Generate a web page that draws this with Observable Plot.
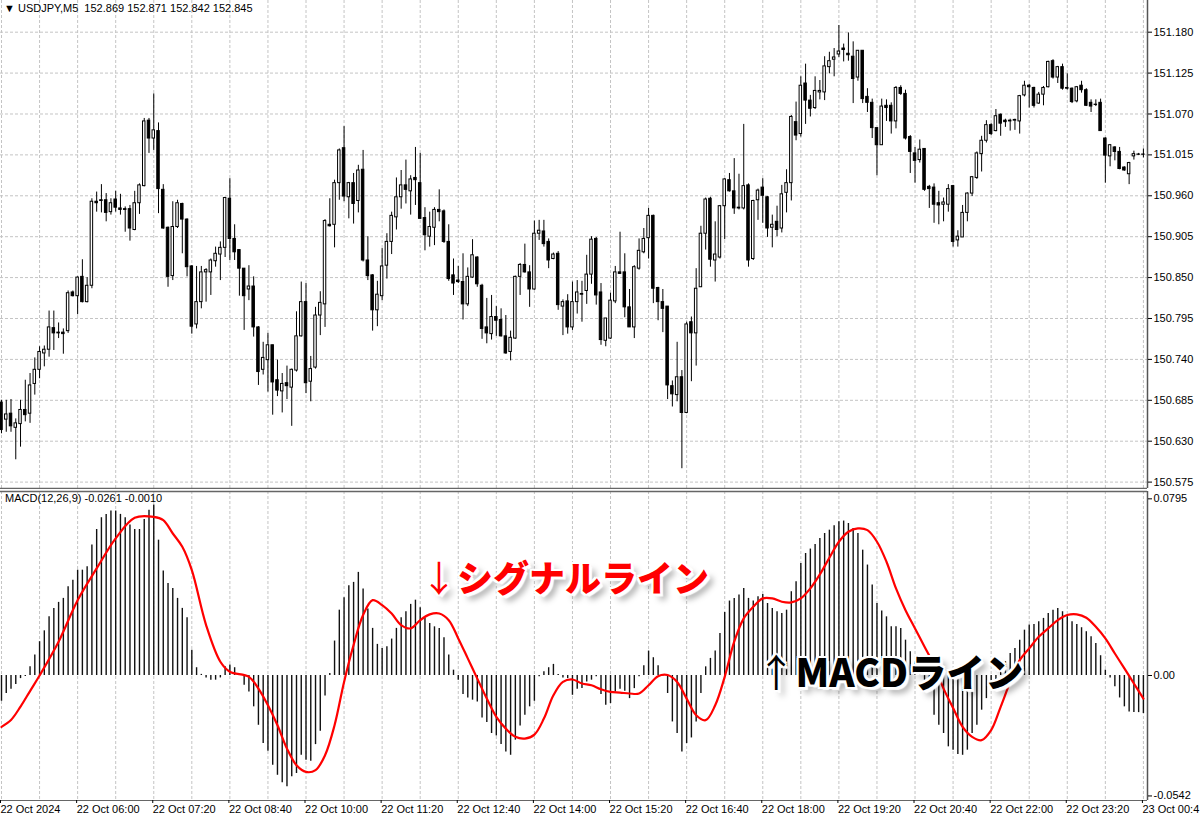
<!DOCTYPE html>
<html><head><meta charset="utf-8">
<script src="https://cdn.jsdelivr.net/npm/d3@7"></script>
<script src="https://cdn.jsdelivr.net/npm/@observablehq/plot@0.6"></script>
<style>
html,body{margin:0;padding:0;background:#fff}
body{width:1200px;height:820px;overflow:hidden;position:relative;font-family:"Liberation Sans",Arial,sans-serif}
#price{position:absolute;left:0;top:0}
#macd{position:absolute;left:0;top:489px}
.hdr{position:absolute;font-size:11px;color:#000;white-space:pre;line-height:1}
.ann{position:absolute;font-family:"Noto Sans CJK JP",sans-serif;font-weight:900;font-size:37px;line-height:1;white-space:nowrap;
 text-shadow:0 0 2px #fff,2px 0 0 #fff,-2px 0 0 #fff,0 2px 0 #fff,0 -2px 0 #fff,2px 2px 0 #fff,-2px -2px 0 #fff,2px -2px 0 #fff,-2px 2px 0 #fff,3px 3px 1px #fff,6px 6px 6px rgba(0,0,0,0.35)}
.ann .ar{font-weight:400}
</style></head><body>
<div id="price"></div>
<div id="macd"></div>
<div class="hdr" style="left:4px;top:3px">▼ USDJPY,M5  152.869 152.871 152.842 152.845</div>
<div class="hdr" style="left:5px;top:493px">MACD(12,26,9) -0.0261 -0.0010</div>
<div class="ann" style="left:421px;top:558px;color:#ff0000;font-size:36px"><span class="ar">↓</span>シグナルライン</div>
<div class="ann" style="left:757px;top:651px;color:#000;font-size:38.5px"><span class="ar">↑</span>MACDライン</div>
<script>
const open = [
150.682,150.659,150.667,150.648,150.653,150.672,150.667,150.707,150.726,150.748,
150.753,150.782,150.776,150.776,150.778,150.830,150.825,150.851,150.817,150.839,
150.952,150.954,150.954,150.938,150.955,150.943,150.942,150.942,150.914,150.950,
150.973,151.061,151.037,151.047,150.968,150.917,150.852,150.918,150.949,150.928,
150.865,150.787,150.817,150.857,150.857,150.872,150.881,150.890,150.956,150.902,
150.887,150.862,150.834,150.838,150.783,150.726,150.739,150.759,150.712,150.697,
150.708,150.702,150.725,150.771,150.817,150.710,150.729,150.799,150.814,150.921,
150.921,150.977,151.024,150.958,150.977,150.953,150.995,150.873,150.853,150.806,
150.825,150.866,150.898,150.931,150.958,150.974,150.966,150.984,150.977,150.930,
150.905,150.917,150.941,150.939,150.898,150.853,150.846,150.844,150.814,150.850,
150.877,150.839,150.783,150.774,150.797,150.793,150.771,150.750,150.768,150.851,
150.867,150.857,150.834,150.909,150.912,150.898,150.875,150.882,150.811,150.818,
150.783,150.817,150.828,150.832,150.854,150.902,150.830,150.765,150.768,150.818,
150.857,150.857,150.810,150.783,150.862,150.884,150.903,150.933,150.836,150.817,
150.811,150.704,150.692,150.716,150.668,150.790,150.775,150.837,150.909,150.956,
150.873,150.877,150.946,150.981,150.966,150.944,150.943,150.974,150.875,150.954,
150.971,150.958,150.917,150.925,150.916,150.964,150.977,151.059,151.043,151.111,
151.088,151.078,151.099,151.099,151.133,151.143,151.150,151.158,151.151,151.147,
151.119,151.155,151.093,151.085,151.051,151.028,151.081,151.081,151.060,151.105,
151.097,151.039,151.017,151.008,151.023,150.972,150.971,150.950,150.948,150.948,
150.973,150.900,150.904,150.937,150.963,150.984,151.016,151.034,151.055,151.047,
151.069,151.061,151.060,151.061,151.060,151.095,151.108,151.105,151.084,151.096,
151.106,151.141,151.119,151.133,151.105,151.104,151.087,151.108,151.102,151.085,
151.083,151.085,151.037,151.013,151.025,151.019,150.998,150.989,151.013,151.016,151.016];
const high = [
150.685,150.685,150.686,150.660,150.685,150.712,150.721,150.742,150.757,150.758,
150.805,150.805,150.789,150.781,150.832,150.832,150.851,150.874,150.850,150.956,
150.965,150.975,150.963,150.956,150.966,150.962,150.945,150.947,150.966,150.976,
151.064,151.064,151.097,151.058,150.975,150.918,150.952,150.954,150.950,150.929,
150.866,150.865,150.865,150.862,150.875,150.891,150.898,150.958,150.983,150.921,
150.887,150.862,150.866,150.851,150.784,150.763,150.775,150.759,150.739,150.721,
150.731,150.727,150.804,150.844,150.842,150.744,150.810,150.831,150.928,150.956,
150.981,151.023,151.053,150.978,150.990,151.001,151.021,150.905,150.854,150.845,
150.889,150.909,150.938,150.984,150.994,151.008,150.987,151.025,151.017,150.944,
150.938,150.944,150.968,150.941,150.921,150.875,150.865,150.882,150.863,150.901,
150.878,150.841,150.822,150.826,150.811,150.808,150.799,150.778,150.852,150.869,
150.895,150.866,150.926,150.927,150.927,150.902,150.883,150.885,150.820,150.827,
150.844,150.846,150.845,150.880,150.905,150.904,150.842,150.795,150.829,150.865,
150.911,150.882,150.834,150.866,150.902,150.916,150.943,150.934,150.837,150.834,
150.811,150.711,150.763,150.725,150.790,150.797,150.862,150.919,150.957,150.958,
150.925,150.947,150.983,150.990,151.010,150.989,151.056,150.976,150.954,150.969,
150.983,150.959,150.934,150.946,150.974,150.995,151.068,151.086,151.120,151.137,
151.095,151.120,151.115,151.147,151.153,151.158,151.189,151.164,151.179,151.167,
151.155,151.155,151.104,151.090,151.051,151.090,151.089,151.085,151.107,151.108,
151.102,151.041,151.025,151.035,151.023,150.974,150.976,150.966,150.957,150.975,
150.974,150.913,150.947,150.964,150.986,151.019,151.040,151.061,151.057,151.076,
151.070,151.063,151.063,151.063,151.095,151.114,151.110,151.106,151.099,151.107,
151.141,151.143,151.134,151.137,151.124,151.105,151.107,151.114,151.104,151.089,
151.089,151.090,151.038,151.029,151.026,151.025,150.999,151.005,151.020,151.017,151.023];
const low = [
150.640,150.642,150.642,150.605,150.622,150.656,150.654,150.692,150.714,150.730,
150.743,150.752,150.768,150.747,150.775,150.824,150.800,150.816,150.816,150.835,
150.938,150.937,150.925,150.934,150.938,150.934,150.911,150.899,150.913,150.935,
150.972,151.017,151.021,150.936,150.915,150.837,150.846,150.916,150.882,150.851,
150.774,150.781,150.808,150.817,150.826,150.864,150.846,150.877,150.873,150.873,
150.825,150.779,150.819,150.770,150.705,150.719,150.696,150.665,150.690,150.668,
150.686,150.650,150.723,150.770,150.694,150.683,150.727,150.772,150.783,150.918,
150.890,150.954,150.952,150.929,150.922,150.937,150.871,150.846,150.778,150.784,
150.819,150.848,150.881,150.914,150.942,150.949,150.934,150.947,150.928,150.886,
150.891,150.893,150.925,150.896,150.845,150.826,150.842,150.793,150.811,150.849,
150.837,150.767,150.761,150.766,150.771,150.770,150.747,150.738,150.767,150.826,
150.856,150.810,150.833,150.900,150.891,150.862,150.874,150.806,150.772,150.774,
150.779,150.801,150.790,150.814,150.841,150.813,150.759,150.757,150.767,150.815,
150.855,150.796,150.783,150.768,150.860,150.882,150.875,150.815,150.792,150.776,
150.686,150.676,150.683,150.593,150.667,150.710,150.731,150.837,150.887,150.864,
150.844,150.875,150.901,150.965,150.935,150.941,150.941,150.864,150.873,150.927,
150.923,150.904,150.890,150.905,150.910,150.937,150.953,151.034,151.039,151.056,
151.066,151.076,151.089,151.088,151.124,151.120,151.146,151.140,151.141,151.084,
151.114,151.084,151.072,151.037,150.987,151.028,151.060,151.043,151.050,151.095,
151.035,150.990,150.977,151.004,150.966,150.943,150.923,150.921,150.925,150.938,
150.891,150.891,150.904,150.925,150.959,150.982,150.992,151.031,151.041,151.046,
151.040,151.052,151.047,151.048,151.043,151.093,151.078,151.078,151.083,151.081,
151.105,151.117,151.111,151.102,151.102,151.084,151.085,151.098,151.080,151.072,
151.080,151.047,150.977,150.999,151.007,150.995,150.993,150.975,151.008,151.014,151.011];
const close = [
150.645,150.666,150.650,150.654,150.672,150.665,150.705,150.726,150.750,150.753,
150.783,150.775,150.775,150.774,150.829,150.825,150.850,150.817,150.839,150.952,
150.950,150.953,150.937,150.950,150.944,150.941,150.941,150.916,150.950,150.974,
151.060,151.037,151.048,150.969,150.916,150.851,150.918,150.950,150.928,150.864,
150.784,150.817,150.857,150.860,150.873,150.882,150.890,150.957,150.902,150.884,
150.862,150.825,150.838,150.783,150.723,150.742,150.759,150.709,150.698,150.707,
150.704,150.726,150.771,150.817,150.708,150.727,150.799,150.816,150.926,150.919,
150.977,151.021,150.959,150.977,150.949,150.994,150.873,150.852,150.806,150.827,
150.865,150.898,150.933,150.958,150.974,150.968,150.982,150.981,150.929,150.907,
150.918,150.941,150.938,150.898,150.848,150.842,150.844,150.814,150.851,150.880,
150.841,150.781,150.775,150.797,150.792,150.771,150.748,150.769,150.851,150.867,
150.857,150.834,150.909,150.913,150.895,150.873,150.881,150.813,150.817,150.783,
150.817,150.830,150.827,150.854,150.901,150.826,150.766,150.795,150.819,150.857,
150.855,150.810,150.783,150.864,150.886,150.902,150.933,150.835,150.817,150.808,
150.705,150.693,150.716,150.668,150.787,150.775,150.835,150.909,150.955,150.874,
150.881,150.946,150.982,150.966,150.943,150.943,150.973,150.873,150.953,150.967,
150.960,150.916,150.921,150.914,150.962,150.977,151.066,151.041,151.108,151.088,
151.077,151.101,151.101,151.134,151.141,151.146,151.154,151.156,151.149,151.117,
151.155,151.090,151.085,151.051,151.028,151.080,151.078,151.060,151.105,151.097,
151.037,151.019,151.007,151.022,150.968,150.969,150.948,150.947,150.951,150.969,
150.898,150.905,150.937,150.963,150.985,151.017,151.034,151.055,151.043,151.067,
151.057,151.059,151.061,151.062,151.094,151.108,151.106,151.081,151.096,151.105,
151.140,151.119,151.133,151.104,151.104,151.086,151.106,151.102,151.081,151.080,
151.083,151.047,151.014,151.028,151.019,150.996,150.994,151.004,151.016,151.016,151.016];
const macdMain = [
-0.0116,-0.0081,-0.0062,-0.0041,-0.0014,-0.0005,0.0039,0.0092,0.0152,0.0201,
0.0264,0.0302,0.0329,0.0347,0.0399,0.0429,0.0474,0.0474,0.0489,0.0587,
0.0657,0.0710,0.0725,0.0740,0.0740,0.0725,0.0710,0.0677,0.0657,0.0657,
0.0702,0.0744,0.0767,0.0609,0.0470,0.0414,0.0392,0.0347,0.0302,0.0260,
0.0114,0.0035,0.0005,-0.0011,-0.0021,-0.0021,-0.0011,0.0039,0.0047,0.0035,
0.0002,-0.0044,-0.0074,-0.0141,-0.0224,-0.0306,-0.0341,-0.0404,-0.0449,-0.0483,
-0.0501,-0.0456,-0.0441,-0.0359,-0.0381,-0.0386,-0.0311,-0.0251,-0.0092,0.0009,
0.0155,0.0294,0.0350,0.0404,0.0419,0.0464,0.0389,0.0299,0.0212,0.0140,
0.0122,0.0129,0.0164,0.0212,0.0260,0.0287,0.0320,0.0339,0.0305,0.0257,
0.0234,0.0219,0.0212,0.0170,0.0092,0.0024,-0.0021,-0.0086,-0.0101,-0.0111,
-0.0119,-0.0191,-0.0212,-0.0261,-0.0272,-0.0311,-0.0344,-0.0359,-0.0291,-0.0227,
-0.0179,-0.0141,-0.0116,-0.0006,0.0017,0.0035,0.0050,0.0005,-0.0011,-0.0014,
-0.0089,-0.0062,-0.0059,-0.0029,-0.0021,-0.0006,-0.0086,-0.0134,-0.0126,-0.0074,
-0.0062,-0.0071,-0.0104,-0.0059,-0.0006,0.0044,0.0110,0.0080,0.0044,-0.0002,
-0.0081,-0.0209,-0.0261,-0.0344,-0.0306,-0.0281,-0.0209,-0.0081,0.0039,0.0077,
0.0110,0.0189,0.0284,0.0335,0.0347,0.0362,0.0392,0.0347,0.0335,0.0354,
0.0365,0.0324,0.0302,0.0287,0.0279,0.0294,0.0377,0.0422,0.0504,0.0549,
0.0569,0.0590,0.0617,0.0639,0.0654,0.0674,0.0692,0.0695,0.0684,0.0662,
0.0639,0.0564,0.0497,0.0407,0.0324,0.0290,0.0264,0.0219,0.0219,0.0212,
0.0159,0.0107,0.0062,0.0024,-0.0021,-0.0071,-0.0179,-0.0224,-0.0261,-0.0321,
-0.0336,-0.0356,-0.0359,-0.0336,-0.0261,-0.0224,-0.0156,-0.0104,-0.0059,-0.0029,
0.0017,0.0062,0.0099,0.0122,0.0159,0.0204,0.0227,0.0230,0.0242,0.0257,
0.0279,0.0294,0.0302,0.0287,0.0264,0.0242,0.0230,0.0215,0.0197,0.0174,
0.0144,0.0089,0.0024,-0.0011,-0.0051,-0.0101,-0.0141,-0.0164,-0.0167,-0.0167,-0.0171];
const signalBars = [0,2,4,6,8,12,16,20,24,28,32,34,36,38,40,43,46,48,52,54,56,58,60,62,64,66,68,70,72,74,76,78,
80,82,84,86,88,90,92,94,96,98,100,102,104,106,108,110,112,114,116,118,120,122,124,126,128,130,132,134,136,138,
140,142,144,146,148,150,152,154,156,158,160,162,164,166,168,170,172,174,176,178,180,182,184,186,188,190,192,194,
196,198,200,202,204,206,208,210,212,214,216,218,220,222,224,226,228,230,232,234,236,238,240];
const signalValues = [-0.0231,-0.0200,-0.0140,-0.0070,0.0000,0.0152,0.0339,0.0482,0.0617,0.0710,0.0714,0.0699,0.0639,0.0579,0.0474,0.0227,0.0062,0.0017,-0.0006,-0.0059,-0.0134,-0.0224,-0.0329,-0.0404,-0.0434,-0.0426,-0.0359,-0.0224,-0.0029,0.0137,0.0272,0.0339,
0.0317,0.0279,0.0227,0.0212,0.0249,0.0275,0.0279,0.0249,0.0167,0.0077,-0.0014,-0.0104,-0.0186,-0.0239,-0.0276,-0.0284,-0.0266,-0.0194,-0.0089,-0.0029,-0.0018,-0.0036,-0.0044,-0.0062,-0.0074,-0.0077,-0.0081,-0.0081,-0.0044,-0.0003,
0.0002,-0.0029,-0.0104,-0.0179,-0.0201,-0.0134,-0.0006,0.0152,0.0257,0.0309,0.0347,0.0347,0.0332,0.0329,0.0347,0.0392,0.0455,0.0530,0.0602,0.0647,0.0662,0.0654,0.0602,0.0512,0.0392,0.0294,0.0212,0.0129,
0.0047,-0.0059,-0.0146,-0.0231,-0.0276,-0.0291,-0.0246,-0.0141,-0.0029,0.0069,0.0122,0.0174,0.0212,0.0249,0.0272,0.0275,0.0260,0.0219,0.0167,0.0099,0.0032,-0.0036,-0.0104];
const priceTicks = [151.180,151.125,151.070,151.015,150.960,150.905,150.850,150.795,150.740,150.685,150.630,150.575];
const macdTicks = [0.0795, 0, -0.0542];
const macdTickLabels = ["0.0795", "0.00", "-0.0542"];
const timeLabels = ["22 Oct 2024","22 Oct 06:00","22 Oct 07:20","22 Oct 08:40","22 Oct 10:00","22 Oct 11:20","22 Oct 12:40","22 Oct 14:00","22 Oct 15:20","22 Oct 16:40","22 Oct 18:00","22 Oct 19:20","22 Oct 20:40","22 Oct 22:00","22 Oct 23:20","23 Oct 00:4"];

const n = open.length;
const bars = d3.range(n).map(i => ({i, o: open[i], h: high[i], l: low[i], c: close[i]}));
const bulls = bars.filter(d => d.c >= d.o);
const bears = bars.filter(d => d.c < d.o);
const dojis = bars.filter(d => Math.abs(d.c - d.o) < 0.0006);
const gridBars = d3.range(0, n, 8);
const labelBars = d3.range(0, n, 16);
const macdData = macdMain.map((v, i) => ({i, v}));
const signal = signalBars.map((b, k) => ({i: b, v: signalValues[k]}));
const xDomain = [-0.21, 240.86];
const grid = {stroke: "#c4c4c4", strokeDasharray: "3,2", strokeWidth: 1};
const style = {fontFamily: "'Liberation Sans', Arial, sans-serif", fontSize: "11px", color: "#000", background: "transparent"};
const halfW = 0.26;

const pricePlot = Plot.plot({
  width: 1200, height: 489, marginLeft: 0, marginRight: 53, marginTop: 0, marginBottom: 1,
  style,
  x: {domain: xDomain, axis: null},
  y: {domain: [150.5664, 151.2226], axis: null},
  marks: [
    Plot.ruleY(priceTicks, grid),
    Plot.ruleX(gridBars, grid),
    Plot.ruleX(bars, {x: "i", y1: "l", y2: "h", stroke: "#000", strokeWidth: 1}),
    Plot.rect(bulls, {x1: d => d.i - halfW, x2: d => d.i + halfW, y1: "o", y2: "c", fill: "#fff", stroke: "#000", strokeWidth: 1}),
    Plot.rect(bears, {x1: d => d.i - halfW, x2: d => d.i + halfW, y1: "o", y2: "c", fill: "#000", stroke: "#000", strokeWidth: 1}),
    Plot.ruleY(dojis, {y: "c", x1: d => d.i - halfW - 0.1, x2: d => d.i + halfW + 0.1, stroke: "#000", strokeWidth: 1.3}),
    Plot.ruleX([xDomain[1]], {stroke: "#555", strokeWidth: 1.5}),
    Plot.ruleY([150.5664], {stroke: "#666", strokeWidth: 1.5}),
    Plot.axisY(priceTicks, {anchor: "right", label: null, tickSize: 4, tickPadding: 2, tickFormat: d => d.toFixed(3), fontSize: 11})
  ]
});
document.getElementById("price").appendChild(pricePlot);

const macdPlot = Plot.plot({
  width: 1200, height: 331, marginLeft: 0, marginRight: 53, marginTop: 2, marginBottom: 20,
  style,
  x: {domain: xDomain, axis: null},
  y: {domain: [-0.05625, 0.0828], axis: null},
  marks: [
    Plot.ruleX(gridBars, grid),
    Plot.ruleX(macdData, {x: "i", y1: 0, y2: "v", stroke: "#111", strokeWidth: 1.4}),
    Plot.line(signal, {x: "i", y: "v", stroke: "#ff0000", strokeWidth: 2.2, curve: "catmull-rom"}),
    Plot.ruleX([xDomain[1]], {stroke: "#555", strokeWidth: 1.5}),
    Plot.ruleY([0.0828], {stroke: "#666", strokeWidth: 1.5}),
    Plot.ruleY([-0.05625], {stroke: "#666", strokeWidth: 1}),
    Plot.axisY(macdTicks, {anchor: "right", label: null, tickSize: 4, tickPadding: 2, tickFormat: d => macdTickLabels[macdTicks.indexOf(d)], fontSize: 11}),
    Plot.axisX(labelBars, {anchor: "bottom", label: null, tickSize: 3, tickPadding: 2, textAnchor: "start", dx: -1, tickFormat: d => timeLabels[labelBars.indexOf(d)], fontSize: 11})
  ]
});
document.getElementById("macd").appendChild(macdPlot);
</script>
</body></html>
